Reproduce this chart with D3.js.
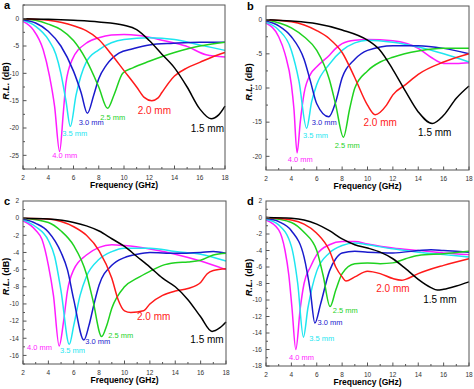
<!DOCTYPE html>
<html>
  <head>
    <meta charset="utf-8" />
    <title>Reflection loss curves</title>
    <style>
      body { margin: 0; background: #fff; }
      text { font-family: Arial, 'Liberation Sans', sans-serif; }
      .frame { fill: none; stroke: #555; stroke-width: 1px; }
      .tick { stroke: #555; stroke-width: 1px; }
      .ticklabel { font-size: 6.5px; fill: #333; }
      .curve { fill: none; stroke-width: 1.5px; }
    </style>
    <script src="https://d3js.org/d3.v7.min.js"></script>
  </head>
  <body>
    <svg width="474" height="389"></svg>
    <script>
      // thicknesses and colours, same order in every panel
      var thick = ['4.0 mm', '3.5 mm', '3.0 mm', '2.5 mm', '2.0 mm', '1.5 mm']
      var colors = ['#ff1cff', '#1ee6f0', '#1a1acd', '#1fd21f', '#ff1a1a', '#000000']
      var xTicks = [2, 4, 6, 8, 10, 12, 14, 16, 18]

      // panel a  [GHz, dB]
      var a40 = [[2,-0.5],[2.8,-2],[3.6,-5.7],[4.1,-10.5],[4.5,-16],[4.9,-24.3],[5.2,-17],[5.4,-11.8],[5.9,-7.5],[7,-4.5],[8,-3.5],[9,-3.0],[10,-2.9],[11.2,-3.1],[13.3,-4.1],[14.9,-5],[16.5,-6.6],[18,-7.0]]
      var a35 = [[2,-0.3],[3,-1.4],[4,-3.8],[4.6,-6.5],[5,-10],[5.4,-15],[5.75,-19.7],[6.2,-14],[7,-8],[8,-5.7],[9,-4.4],[10,-3.8],[12,-3.5],[14,-3.8],[16,-4.8],[18,-5.8]]
      var a30 = [[2,-0.2],[3,-0.8],[4,-2.3],[5,-5],[6,-9.6],[6.6,-13.5],[7.1,-17.3],[7.6,-14],[8,-11],[8.6,-8.5],[9.6,-6.3],[10.7,-5.5],[12,-4.8],[13.9,-4.5],[16,-4.3],[18,-4.3]]
      var a25 = [[2,0],[3,-0.3],[4,-1],[5,-2],[6,-4],[7,-7.5],[8,-12.5],[8.7,-16.4],[9.2,-14],[9.9,-10],[10.7,-9],[12,-7.8],[14,-6.2],[16,-5],[18,-4.3]]
      var a20 = [[2,0],[4,-0.3],[6,-1.3],[7,-2.2],[8,-3.8],[9,-6.5],[10,-9.5],[11,-12.5],[11.6,-14.4],[12.2,-15],[12.7,-14.5],[13,-13.5],[14,-10.5],[15,-9],[16,-8],[17,-7],[18,-6.2]]
      var a15 = [[2,0],[4,-0.1],[6,-0.3],[8,-0.6],[10,-1.2],[11,-2],[12,-4],[13,-6.5],[14,-9],[15,-12.5],[16,-16.5],[16.9,-18.3],[17.5,-17.6],[18,-16]]

      // panel b
      var b40 = [[2,-0.5],[3,-2.5],[3.5,-5],[4,-9.5],[4.2,-13],[4.45,-19.5],[4.7,-15],[5,-10.8],[5.5,-8],[6,-6.9],[7,-5.2],[7.5,-4.2],[8,-3.5],[9,-3],[10,-2.9],[12,-3.1],[14,-4.2],[15,-5.5],[16,-6.4],[17,-6.4],[18,-6.3]]
      var b35 = [[2,-0.4],[3,-1.5],[4,-4.5],[4.6,-9],[5.2,-15.9],[5.6,-12],[6,-9.5],[7,-6.5],[8,-4.5],[9,-3.4],[10,-3],[12,-3.3],[14,-4],[16,-5],[18,-6.2]]
      var b30 = [[2,-0.2],[3,-0.9],[4,-2.5],[5,-5.8],[5.5,-9],[6,-12.3],[6.95,-14.2],[7.5,-12],[8,-8.5],[9,-5.8],[10,-4.5],[12,-3.8],[14,-3.8],[16,-4.2],[18,-5]]
      var b25 = [[2,0],[4,-1.2],[5,-2.5],[6,-4.5],[7,-8.8],[7.5,-12.5],[8.1,-17.2],[8.6,-13],[9,-10],[10,-7.5],[11,-6.2],[12,-5.5],[14,-4.6],[16,-4.2],[18,-4.2]]
      var b20 = [[2,0],[4,-0.3],[6,-1.6],[7,-2.8],[8,-4.8],[9,-8.5],[10,-12.5],[10.6,-13.9],[11.5,-12.5],[12,-11],[13,-9.5],[14,-8],[16,-6.2],[18,-5]]
      var b15 = [[2,0],[4,-0.2],[6,-0.6],[8,-1.5],[10,-3],[11,-4.5],[12,-7.3],[13,-10.5],[14,-13.5],[15.1,-15.2],[16,-14],[17,-11.5],[18,-9.7]]

      // panel c
      var c40 = [[2,-0.3],[3,-1.4],[3.5,-2.5],[4,-5.5],[4.4,-9],[4.85,-14.9],[5.2,-12],[5.5,-8.5],[6,-6],[7,-4.3],[8,-3.4],[9,-3.1],[10,-3.2],[12,-3.6],[14,-4.2],[16,-5],[18,-6]]
      var c35 = [[2,-0.2],[3,-1],[4,-2.6],[4.5,-4.5],[5,-8.5],[5.65,-14.7],[6,-12.5],[6.5,-9],[7,-6.8],[8,-4.8],[9,-3.9],[10,-3.5],[12,-3.5],[14,-3.9],[16,-4.2],[18,-5]]
      var c30 = [[2,-0.1],[3,-0.6],[4,-1.6],[5,-4],[5.5,-6],[6,-9.5],[6.8,-14.2],[7.2,-12.5],[7.6,-10],[8,-7.8],[9,-5.5],[10,-4.6],[11,-4.2],[12,-4],[14,-4.1],[16,-4],[17,-3.9],[18,-4.1]]
      var c25 = [[2,0],[4,-0.5],[5,-1.5],[6,-3.2],[7,-6.5],[7.5,-9.5],[8.2,-13.8],[8.6,-12.5],[9,-10.5],[10,-8],[11,-7],[12,-6.2],[13,-5.5],[14,-5.2],[15,-5.1],[16,-4.9],[17,-4.3],[18,-4.1]]
      var c20 = [[2,0],[4,-0.1],[5,-0.4],[6,-1],[7,-2],[8,-3.8],[9,-7],[9.5,-9.5],[10,-10.8],[10.5,-11],[11.5,-10.8],[12,-10],[13,-9],[14,-8.5],[15,-8.2],[16,-7.5],[16.5,-6.5],[17,-6.1],[18,-5.9]]
      var c15 = [[2,0],[4,-0.1],[6,-0.5],[7,-0.9],[8,-1.5],[9,-2.4],[10,-3.3],[11,-4.5],[12,-5.7],[13,-7],[14,-8],[15,-9.5],[16,-11.5],[16.9,-13.2],[17.5,-12.8],[18,-12.1]]

      // panel d
      var d40 = [[2,-0.3],[3,-1.5],[3.5,-4],[3.8,-7],[4.05,-11],[4.35,-16],[4.7,-11],[5,-8],[5.5,-6],[6,-4.5],[7,-3.3],[8,-2.9],[9,-2.9],[10,-3.2],[12,-3.7],[14,-4],[16,-4.3],[18,-4.5]]
      var d35 = [[2,-0.2],[3,-0.9],[4,-3.5],[4.5,-8],[4.95,-14.5],[5.3,-11],[6,-6.5],[7,-4.3],[8,-3.4],[9,-3.1],[10,-3.3],[12,-3.8],[14,-4.2],[16,-4.5],[18,-4.8]]
      var d30 = [[2,-0.1],[3,-0.5],[4,-1.6],[5,-4.8],[5.5,-9],[5.85,-12.8],[6.3,-10.5],[7,-6.5],[7.5,-5],[8,-4.3],[9,-4.1],[10,-4.2],[12,-4.3],[14,-4],[15,-3.9],[16,-4],[18,-4.2]]
      var d25 = [[2,0],[4,-0.6],[5,-1.8],[6,-4],[6.5,-7],[7.05,-10.8],[7.5,-8.8],[8,-6.8],[9,-5.6],[10,-5.5],[11,-5.6],[12,-5.5],[13,-5],[14,-4.6],[16,-4.4],[18,-4.1]]
      var d20 = [[2,0],[4,-0.3],[5,-0.8],[6,-1.9],[7,-4],[7.5,-6],[8,-7.2],[8.3,-7.7],[9,-7.2],[10,-6.5],[11,-6.8],[12,-7.4],[12.7,-7.6],[13,-7.5],[14,-6.8],[16,-5.8],[18,-5]]
      var d15 = [[2,0],[4,-0.1],[5,-0.3],[6,-0.8],[7,-1.6],[8,-2.6],[9,-3.3],[10,-3.7],[11,-4.2],[12,-5],[13,-6.2],[14,-7.5],[15,-8.5],[15.5,-8.8],[16,-8.7],[17,-8.3],[18,-7.8]]

      // label positions [GHz, dB]
      var labA = [[5.3,-25],[6.1,-21],[7.4,-18.9],[9.1,-18],[12.4,-16.8],[16.6,-20]]
      var labB = [[4.7,-20.5],[5.9,-17],[6.6,-15.1],[8.4,-18.4],[11,-15],[15.3,-16.5]]
      var labC = [[3.3,-15.1],[5.9,-15.4],[7.9,-14.4],[9.7,-13.7],[12.3,-11.5],[16.5,-14.1]]
      var labD = [[4.8,-17],[6.4,-14.7],[7.05,-12.75],[8.25,-11.3],[12,-8.6],[15.7,-9.9]]

      var svg = d3.select('svg')

      var panels = [
        { name: 'a', series: [a40, a35, a30, a25, a20, a15], labels: labA,
          box: [23, 225, 5, 169], ydom: [-27.5, 2.5], ymaj: d3.range(-25, 1, 5), ymin: d3.range(-27.5, 2.6, 2.5) },
        { name: 'b', series: [b40, b35, b30, b25, b20, b15], labels: labB,
          box: [266, 469, 6, 170], ydom: [-22, 2], ymaj: d3.range(-20, 1, 5), ymin: d3.range(-20, 1, 2.5) },
        { name: 'c', series: [c40, c35, c30, c25, c20, c15], labels: labC,
          box: [23, 226, 201, 364], ydom: [-17, 2], ymaj: d3.range(-16, 3, 2), ymin: d3.range(-17, 2, 1) },
        { name: 'd', series: [d40, d35, d30, d25, d20, d15], labels: labD,
          box: [266, 469, 201, 366], ydom: [-18, 2], ymaj: d3.range(-18, 3, 2), ymin: d3.range(-18, 2, 1) },
      ]

      panels.forEach(function (p) {
        var x = d3.scaleLinear().domain([2, 18]).range([p.box[0], p.box[1]])
        var y = d3.scaleLinear().domain(p.ydom).range([p.box[3], p.box[2]])
        var g = svg.append('g')

        // curves
        var line = d3
          .line()
          .x(function (d) { return x(d[0]) })
          .y(function (d) { return y(d[1]) })
          .curve(d3.curveMonotoneX)
        g.selectAll('.curve')
          .data(p.series)
          .enter()
          .append('path')
          .attr('class', 'curve')
          .attr('d', line)
          .style('stroke', function (d, i) { return colors[i] })

        // frame
        g.append('rect')
          .attr('class', 'frame')
          .attr('x', p.box[0])
          .attr('y', p.box[2])
          .attr('width', p.box[1] - p.box[0])
          .attr('height', p.box[3] - p.box[2])

        // x ticks (inward)
        var xm = d3.range(3, 18, 2)
        g.selectAll('.xt')
          .data(xTicks.map(function (v) { return [v, 3.5] }).concat(xm.map(function (v) { return [v, 2] })))
          .enter()
          .append('line')
          .attr('class', 'tick')
          .attr('x1', function (d) { return x(d[0]) })
          .attr('x2', function (d) { return x(d[0]) })
          .attr('y1', p.box[3])
          .attr('y2', function (d) { return p.box[3] - d[1] })
        g.selectAll('.xl')
          .data(xTicks)
          .enter()
          .append('text')
          .attr('class', 'ticklabel')
          .attr('x', function (d) { return x(d) })
          .attr('y', p.box[3] + 10.5)
          .attr('text-anchor', 'middle')
          .text(function (d) { return d })

        // y ticks (inward)
        g.selectAll('.yt')
          .data(p.ymin.map(function (v) { return [v, p.ymaj.indexOf(v) >= 0 ? 3.5 : 2] }))
          .enter()
          .append('line')
          .attr('class', 'tick')
          .attr('x1', p.box[0])
          .attr('x2', function (d) { return p.box[0] + d[1] })
          .attr('y1', function (d) { return y(d[0]) })
          .attr('y2', function (d) { return y(d[0]) })
        g.selectAll('.yl')
          .data(p.ymaj)
          .enter()
          .append('text')
          .attr('class', 'ticklabel')
          .attr('x', p.box[0] - 4)
          .attr('y', function (d) { return y(d) + 2.3 })
          .attr('text-anchor', 'end')
          .text(function (d) { return d })

        // axis titles
        g.append('text')
          .attr('x', (p.box[0] + p.box[1]) / 2)
          .attr('y', p.box[3] + 18.5)
          .attr('text-anchor', 'middle')
          .style('font-size', '8.5px')
          .style('font-weight', 'bold')
          .text('Frequency (GHz)')
        g.append('text')
          .attr('transform', 'translate(' + (p.box[0] - 14) + ',' + ((p.box[2] + p.box[3]) / 2 - 6) + ') rotate(-90)')
          .attr('text-anchor', 'middle')
          .style('font-size', '9px')
          .style('font-weight', 'bold')
          .html('<tspan font-style="italic">R.L.</tspan> (dB)')

        // panel letter
        g.append('text')
          .attr('x', p.box[0] - 19)
          .attr('y', p.box[2] + 4)
          .style('font-size', '11px')
          .style('font-weight', 'bold')
          .text(p.name)

        // thickness labels
        g.selectAll('.lab')
          .data(p.labels)
          .enter()
          .append('text')
          .attr('x', function (d) { return x(d[0]) })
          .attr('y', function (d) { return y(d[1]) })
          .attr('dy', '0.35em')
          .attr('text-anchor', 'middle')
          .style('font-size', function (d, i) { return i >= 4 ? '10px' : '7.5px' })
          .style('fill', function (d, i) { return colors[i] })
          .text(function (d, i) { return thick[i] })
      })
    </script>
  </body>
</html>
